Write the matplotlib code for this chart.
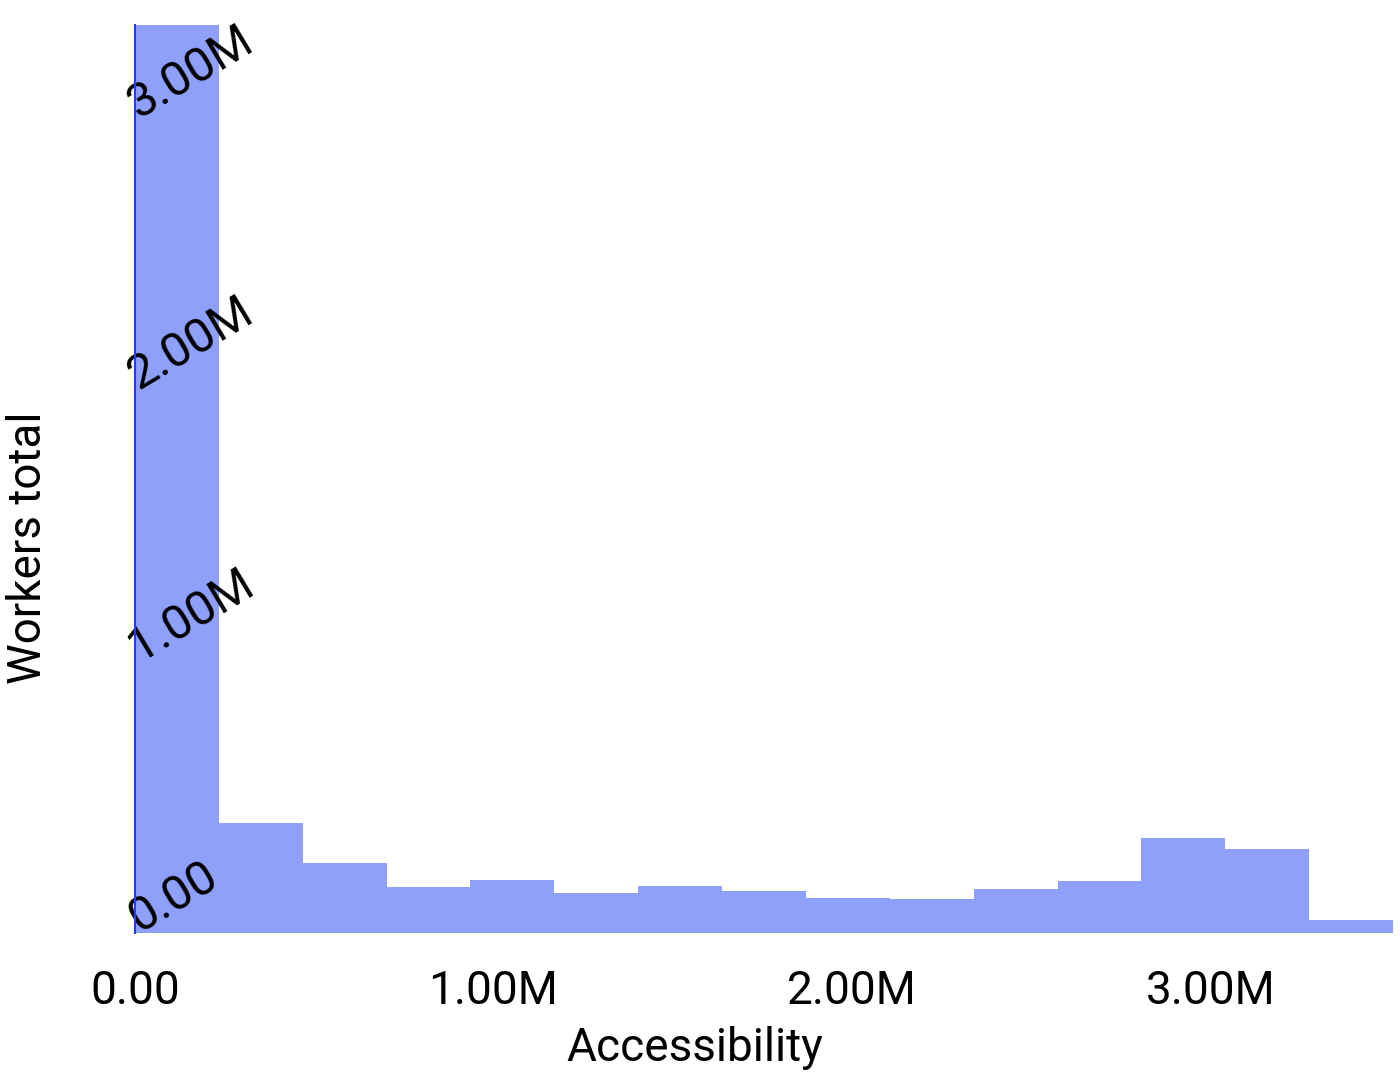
import matplotlib.pyplot as plt
import numpy as np

plt.rcParams['font.family'] = ['Roboto', 'DejaVu Sans']

# histogram of accessibility, 15 equal bins (values in workers)
bin_edges = np.linspace(0, 3.51e6, 16)
workers = [4.5e6, 0.405e6, 0.258e6, 0.170e6, 0.195e6, 0.147e6, 0.173e6, 0.155e6,
           0.129e6, 0.125e6, 0.162e6, 0.192e6, 0.350e6, 0.310e6, 0.048e6]
x_ticks = [0, 1e6, 2e6, 3e6]
x_labels = ['0.00', '1.00M', '2.00M', '3.00M']
y_ticks = [0, 1e6, 2e6, 3e6]
y_labels = ['0.00', '1.00M', '2.00M', '3.00M']

fig = plt.figure(figsize=(14, 10.77), dpi=100)
ax = fig.add_axes([0.0964, 0.1337, 0.8986, 0.8431])

ax.hist(bin_edges[:-1], bins=bin_edges, weights=workers,
        color='#8fa0fa', edgecolor='none')

ax.set_xlim(0, 3.51e6)
ax.set_ylim(0, 3.347e6)

for s in ['top', 'right', 'bottom']:
    ax.spines[s].set_visible(False)
ax.spines['left'].set_color('#2040f0')
ax.spines['left'].set_linewidth(1.5)
ax.spines['left'].set_zorder(5)

ax.set_xticks(x_ticks)
ax.set_xticklabels(x_labels, fontsize=33)
ax.tick_params(axis='x', length=0, pad=26)

ax.set_yticks(y_ticks)
ax.set_yticklabels(y_labels, fontsize=35, rotation=31,
                   ha='left', va='baseline', rotation_mode='anchor')
ax.tick_params(axis='y', length=0, pad=-3)

ax.set_xlabel('Accessibility', fontsize=33, va='center', ha='center')
ax.xaxis.set_label_coords(0.445, -0.127)
ax.set_ylabel('Workers total', fontsize=33, va='center', ha='center')
ax.yaxis.set_label_coords(-0.085, 0.424)

fig.savefig('out.png')
